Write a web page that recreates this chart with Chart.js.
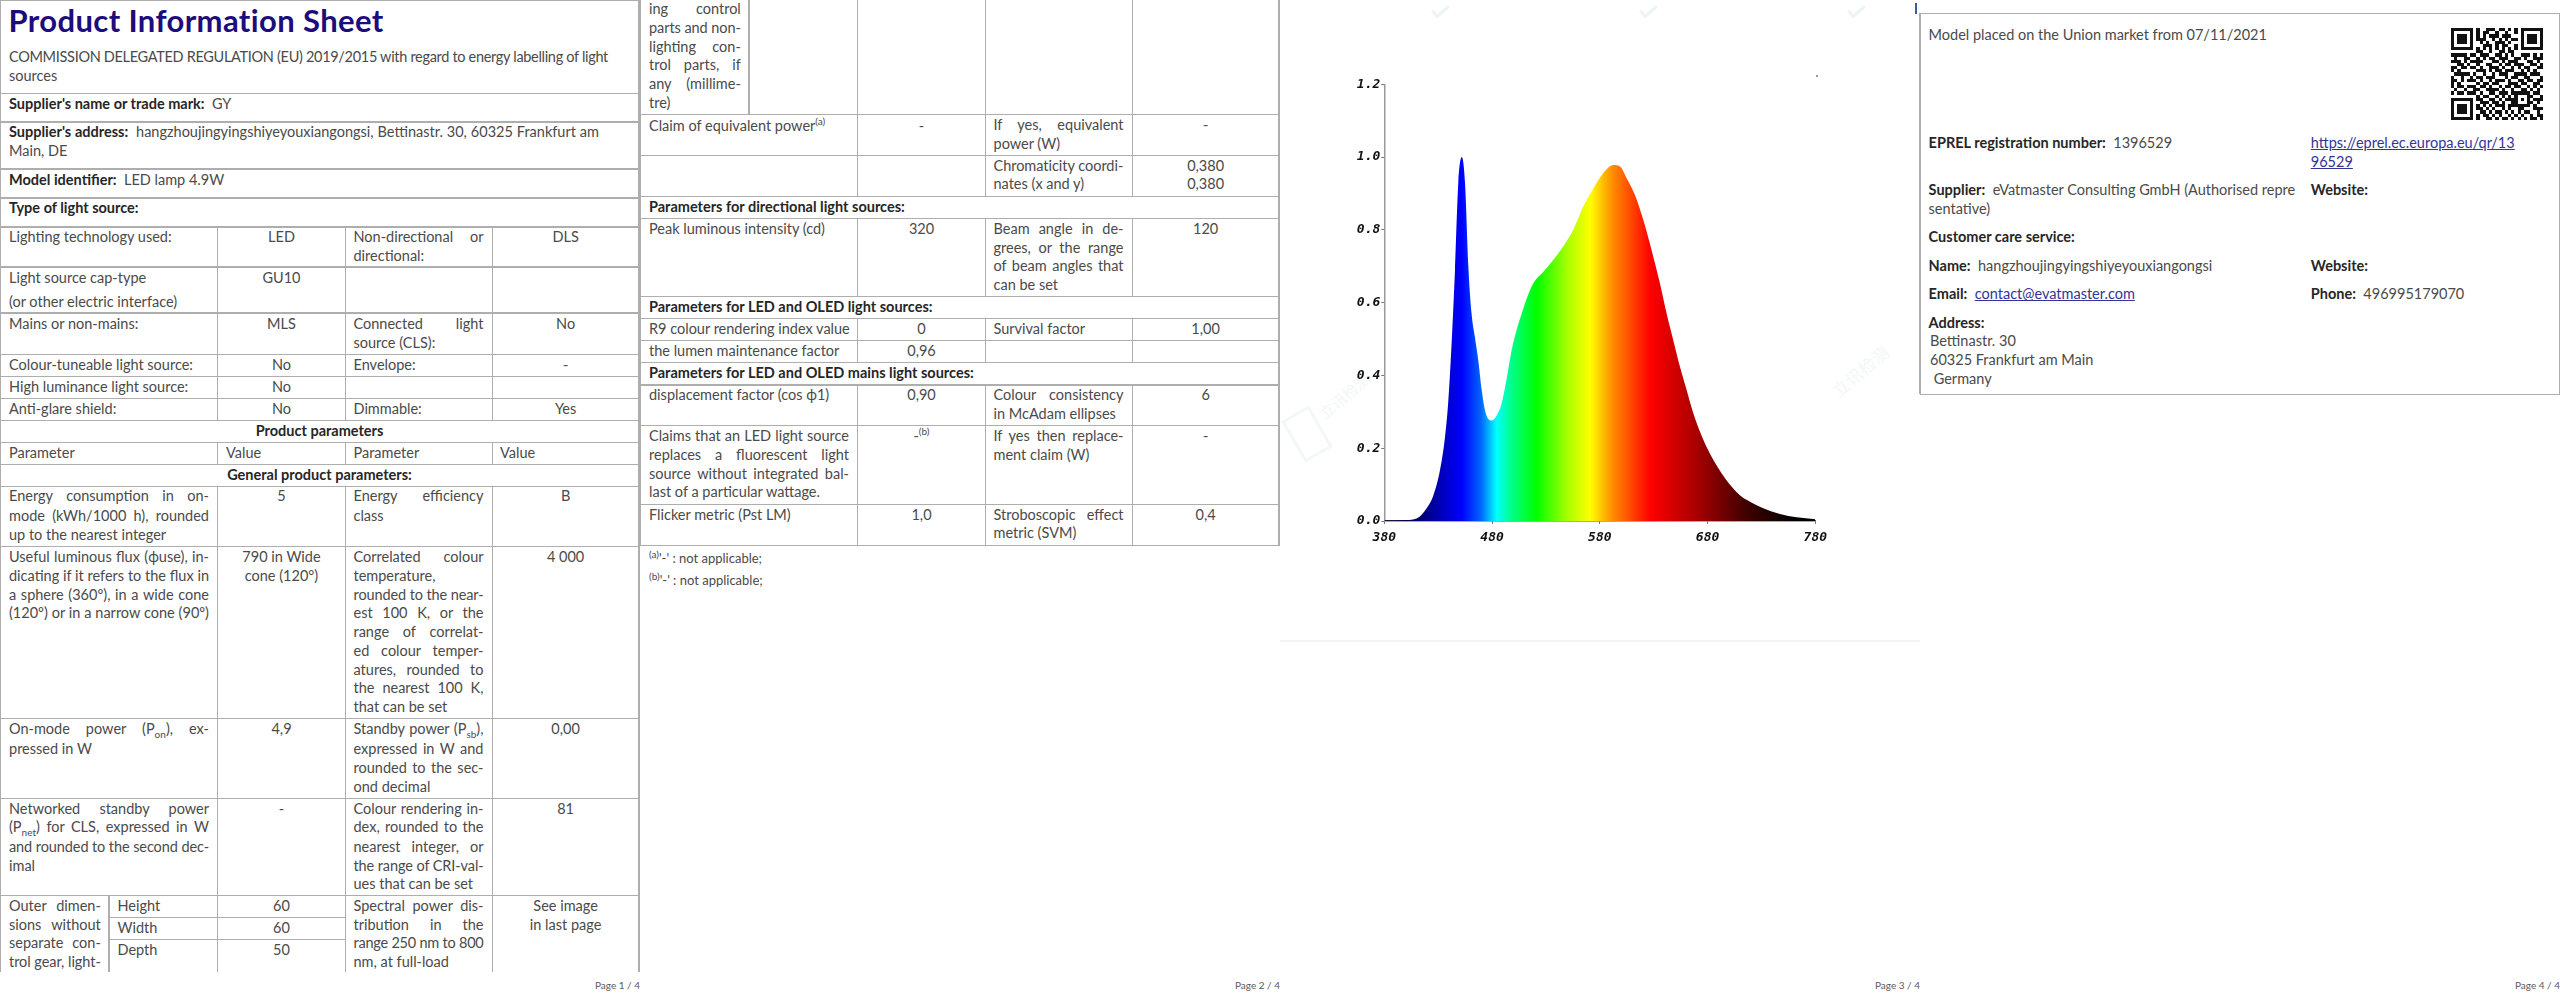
<!DOCTYPE html>
<html>
<head>
<meta charset="utf-8">
<script src="https://cdn.jsdelivr.net/npm/chart.js@4"></script>
<style>
html,body{margin:0;padding:0;background:#fff;width:2560px;height:1001px;overflow:hidden}
#doc{position:absolute;left:0;top:0;width:2560px;height:1001px;font-family:Lato,"Open Sans",sans-serif;font-size:14.5px;color:#4a4a4a}
#doc .t{position:absolute;height:20px;line-height:20px;white-space:nowrap}
#doc .c{text-align:center}
#doc .r{position:absolute;background:#aeaeae}
#doc b{color:#262626;font-weight:700}
#doc a{color:#33339a;text-decoration:underline}
#doc sub,#doc sup{font-size:10px;line-height:0}
#chartWrap{position:absolute;left:1340px;top:70px;width:500px;height:490px}
.wm{position:absolute;color:#cfe6e2;opacity:.28;transform:rotate(-40deg);white-space:nowrap;font-family:"Noto Sans CJK SC",sans-serif}
.logo{position:absolute;border:3px solid #d5e9e6;opacity:.3;transform:rotate(-30deg)}
.chk{position:absolute;border-left:3px solid #dcecea;border-bottom:3px solid #dcecea;width:14px;height:6px;transform:rotate(-40deg);opacity:.5}
</style>
</head>
<body>
<div id="doc"></div>
<div id="chartWrap"><canvas id="spectrum" width="500" height="490"></canvas></div>
<script>
// ---- chart data ----
const WAVELENGTHS = [380,400.7,410,419.3,425.5,431.7,436.3,439.4,442.5,445.6,448.7,452,454.9,458,461,464,467.3,470.4,473.4,476.5,479.6,484.3,488.9,493.5,498.2,502.8,507.5,512,518.3,527.6,536.8,546,555.4,564.7,574,583,592.5,598.7,604.9,612.6,620.4,628,635.8,642,648.2,654.4,660.6,666.8,673,679,685.3,693,701,710,719.4,731.7,747.2,762.7,780];
const INTENSITY = [0.002,0.003,0.007,0.035,0.07,0.14,0.23,0.33,0.49,0.69,0.93,1.0,0.93,0.70,0.57,0.507,0.44,0.36,0.305,0.28,0.276,0.29,0.323,0.39,0.47,0.525,0.57,0.61,0.653,0.685,0.717,0.754,0.80,0.864,0.914,0.955,0.978,0.974,0.942,0.896,0.827,0.745,0.653,0.57,0.497,0.424,0.36,0.296,0.245,0.204,0.168,0.131,0.099,0.071,0.053,0.035,0.019,0.010,0.005];
const X_TICKS = [380,480,580,680,780];
const Y_TICKS = [0,0.2,0.4,0.6,0.8,1.0,1.2];
const SPECTRUM_NM = [400,430,452,470,484,497,521,550,571,592,627,670,716,760];
const SPECTRUM_COLORS = ['#000040','#0000b0','#0000ff','#0068ff','#00ffff','#00ff90','#00ff00','#a8ff00','#ffff00','#ff8c00','#ff0000','#a80000','#400000','#000000'];

// ---- qr modules ----
const QR_ROWS = [
"11111110100111011010101111111",
"10000010101100100100101000001",
"10111010101011101110001011101",
"10111010111001010101101011101",
"10111010010100111010001011101",
"10000010001110101100101000001",
"11111110101010101010101111111",
"00000000110010011011000000000",
"11111011011100110101001110101",
"01001100101011011100110100111",
"11101011110001101011100011010",
"00110100100110010110111001101",
"11011011010011101001010110011",
"10100000111010110111001010100",
"01111101001001011100111101110",
"10010010110111000101100110001",
"11010111010010111010011011011",
"10100000101101100011101100110",
"10110111011010010110110010101",
"01001001100111101001001101010",
"10110111010011011101111110110",
"00000000101100101010100011001",
"11111110110011010111101010111",
"10000010011101101001100011010",
"10111010101010111011111110100",
"10111010110101001010011000111",
"10111010011010110101010110010",
"10000010101101010010101001011",
"11111110100110101101010101101"];

// ---- document text: page 1 ----
const P1_FIT = [
 [56.7,"COMMISSION DELEGATED REGULATION (EU) 2019/2015 with regard to energy labelling of light",608],
 [132.3,"<b>Supplier's address:</b>&nbsp; hangzhoujingyingshiyeyouxiangongsi, Bettinastr. 30, 60325 Frankfurt am",599]
];
const P1_LEFT = [
 [76,"sources"],
 [104,"<b>Supplier's name or trade mark:</b>&nbsp; GY"],
 [151.3,"Main, DE"],
 [179.7,"<b>Model identifier:</b>&nbsp; LED lamp 4.9W"],
 [208.3,"<b>Type of light source:</b>"],
 [237,"Lighting technology used:"],[278,"Light source cap-type"],[301.7,"(or other electric interface)"],
 [324,"Mains or non-mains:"],[364.7,"Colour-tuneable light source:"],[386.7,"High luminance light source:"],[408.7,"Anti-glare shield:"],
 [453,"Parameter"],[535,"up to the nearest integer"],[749,"pressed in W"],[866,"imal"]
];
const P1_LEFT_J = [
 [496,"Energy consumption in on-"],[515.7,"mode (kWh/1000 h), rounded"],[557,"Useful luminous flux (ϕuse), in-"],[575.7,"dicating if it refers to the flux in"],
 [594.7,"a sphere (360º), in a wide cone"],[613.3,"(120º) or in a narrow cone (90º)"],[729.3,"On-mode power (P<sub>on</sub>), ex-"],[808.7,"Networked standby power"],[827.3,"(P<sub>net</sub>) for CLS, expressed in W"],
 [846.7,"and rounded to the second dec-"]
];
const P1_NARROW = [[906,"Outer dimen-"],[924.7,"sions without"],[943.3,"separate con-"],[962.3,"trol gear, light-"]];
const P1_SUB = [[906,"Height"],[927.7,"Width"],[950,"Depth"]];
const P1_VAL = [[237,"LED"],[278,"GU10"],[324,"MLS"],[364.7,"No"],[386.7,"No"],[408.7,"No"],[496,"5"],[557,"790 in Wide"],[575.7,"cone (120°)"],[729.3,"4,9"],[808.7,"-"],[906,"60"],[927.7,"60"],[950,"50"]];
const P1_PAR = [
 [237,"Non-directional or",1],[255.7,"directional:",0],[324,"Connected light",1],[343,"source (CLS):",0],[364.7,"Envelope:",0],[408.7,"Dimmable:",0],
 [453,"Parameter",0],[496,"Energy efficiency",1],[515.7,"class",0],
 [557,"Correlated colour",1],[575.7,"temperature,",0],[594.7,"rounded to the near-",1],[613.3,"est 100 K, or the",1],[632.3,"range of correlat-",1],[651,"ed colour temper-",1],[669.7,"atures, rounded to",1],[688.3,"the nearest 100 K,",1],[707,"that can be set",0],
 [729.3,"Standby power (P<sub>sb</sub>),",1],[749,"expressed in W and",1],[768,"rounded to the sec-",1],[786.7,"ond decimal",0],
 [808.7,"Colour rendering in-",1],[827.3,"dex, rounded to the",1],[846.7,"nearest integer, or",1],[865.7,"the range of CRI-val-",1],[884,"ues that can be set",0],
 [906,"Spectral power dis-",1],[924.7,"tribution in the",1],[943.3,"range 250 nm to 800",1],[962.3,"nm, at full-load",0]
];
const P1_VAL2 = [[237,"DLS"],[324,"No"],[364.7,"-"],[408.7,"Yes"],[496,"B"],[557,"4 000"],[729.3,"0,00"],[808.7,"81"],[906,"See image"],[924.7,"in last page"]];

// ---- page 2 ----
const P2_NARROW = [[9.3,"ing control",1],[28,"parts and non-",1],[46.7,"lighting con-",1],[65.3,"trol parts, if",1],[84.3,"any (millime-",1],[103,"tre)",0]];
const P2_LEFT = [[126,"Claim of equivalent power<sup>(a)</sup>"],[206.7,"<b>Parameters for directional light sources:</b>"],[228.7,"Peak luminous intensity (cd)"],
 [307,"<b>Parameters for LED and OLED light sources:</b>"],[329.3,"R9 colour rendering index value"],[351.3,"the lumen maintenance factor"],[373,"<b>Parameters for LED and OLED mains light sources:</b>"],
 [395.3,"displacement factor (cos ϕ1)"],[492.3,"last of a particular wattage."],[515,"Flicker metric (Pst LM)"]];
const P2_LEFT_J = [[436.3,"Claims that an LED light source"],[455,"replaces a fluorescent light"],[473.7,"source without integrated bal-"]];
const P2_VAL = [[126,"-"],[228.7,"320"],[329.3,"0"],[351.3,"0,96"],[395.3,"0,90"],[436.3,"-<sup>(b)</sup>"],[515,"1,0"]];
const P2_PAR = [[125,"If yes, equivalent",1],[143.7,"power (W)",0],[165.7,"Chromaticity coordi-",1],[184.3,"nates (x and y)",0],
 [228.7,"Beam angle in de-",1],[247.7,"grees, or the range",1],[266.3,"of beam angles that",1],[285,"can be set",0],[329.3,"Survival factor",0],
 [395.3,"Colour consistency",1],[414,"in McAdam ellipses",0],[436.3,"If yes then replace-",1],[455,"ment claim (W)",0],[515,"Stroboscopic effect",1],[533.3,"metric (SVM)",0]];
const P2_VAL2 = [[125,"-"],[165.7,"0,380"],[184.3,"0,380"],[228.7,"120"],[329.3,"1,00"],[395.3,"6"],[436.3,"-"],[515,"0,4"]];
const P2_NOTES = [[557.7,"<sup>(a)</sup>'-' : not applicable;"],[579.7,"<sup>(b)</sup>'-' : not applicable;"]];

// ---- page 4 ----
const P4_LEFT = [[34.7,"Model placed on the Union market from 07/11/2021"],[143.3,"<b>EPREL registration number:</b>&nbsp; 1396529"],
 [190.3,"<b>Supplier:</b>&nbsp; eVatmaster Consulting GmbH (Authorised repre"],[209.3,"sentative)"],[237.3,"<b>Customer care service:</b>"],
 [265.7,"<b>Name:</b>&nbsp; hangzhoujingyingshiyeyouxiangongsi"],[294.3,"<b>Email:</b>&nbsp; <a>contact@evatmaster.com</a>"],[322.7,"<b>Address:</b>"]];
const P4_ADDR = [[341.3,"Bettinastr. 30"],[360,"60325 Frankfurt am Main"],[379,"&nbsp;Germany"]];
const P4_RIGHT = [[143.3,"<a>https://eprel.ec.europa.eu/qr/13</a>"],[162.3,"<a>96529</a>"],[190.3,"<b>Website:</b>"],[265.7,"<b>Website:</b>"],[294.3,"<b>Phone:</b>&nbsp; 496995179070"]];

// ---- layout helpers ----
const doc = document.getElementById('doc');
function el(cls,css,html){const d=document.createElement('div');d.className=cls;d.style.cssText=css;if(html!==undefined)d.innerHTML=html;doc.appendChild(d);return d;}
function T(x,y,html,extra){return el('t',`left:${x}px;top:${y-10}px;${extra||''}`,html);}
function J(x0,x1,y,html){
  const d=el('t',`left:${x0}px;top:${y-10}px`,html);
  const w=x1-x0,nat=d.getBoundingClientRect().width,txt=d.textContent;
  const spaces=(txt.match(/[ \u00a0]/g)||[]).length;
  if(nat>w) d.style.letterSpacing=((w-nat)/txt.length)+'px';
  else if(spaces) d.style.wordSpacing=((w-nat)/spaces)+'px';
  return d;
}
function C(xc,y,html,extra){return el('t c',`left:${xc-100}px;top:${y-10}px;width:200px;${extra||''}`,html);}
function H(x0,x1,y){el('r',`left:${x0}px;top:${y-0.75}px;width:${x1-x0}px;height:1.5px`);}
function V(x,y0,y1){el('r',`left:${x-0.75}px;top:${y0}px;width:1.5px;height:${y1-y0}px`);}
const COL={a:0,sub:109,b:217.6,c:345.4,d:492.3,e:639};
const BODY={lx0:9,lx1:209,nx1:100.8,subx:117.5,vc:281.5,px0:353.5,px1:483.5,v2c:565.6};
function PAR(list,off){list.forEach(r=>r[2]?J(BODY.px0+off,BODY.px1+off,r[0],r[1]):T(BODY.px0+off,r[0],r[1]));}

// ---- page 1 ----
T(8.5,20,"Product Information Sheet","font-size:31px;letter-spacing:.38px;font-weight:700;color:#1c0c7c;height:36px;line-height:36px;top:2px");
P1_FIT.forEach(r=>J(BODY.lx0,r[2],r[0],r[1]));
P1_LEFT.forEach(r=>T(BODY.lx0,r[0],r[1]));
P1_LEFT_J.forEach(r=>J(BODY.lx0,BODY.lx1,r[0],r[1]));
P1_NARROW.forEach(r=>J(BODY.lx0,BODY.nx1,r[0],r[1]));
P1_SUB.forEach(r=>T(BODY.subx,r[0],r[1]));
P1_VAL.forEach(r=>C(BODY.vc,r[0],r[1]));
PAR(P1_PAR,0);
P1_VAL2.forEach(r=>C(BODY.v2c,r[0],r[1]));
T(226,453,"Value");T(500,453,"Value");
C(319.5,431,"<b>Product parameters</b>");C(319.5,475,"<b>General product parameters:</b>");
[0,93.3,122,169,198,227,267,313,354.5,376.5,398.5,420.5,442.5,464.5,486.5,546.3,718.3,798.3,895.7].forEach(y=>H(0,COL.e+.7,y));
H(COL.sub,COL.c,917.3);H(COL.sub,COL.c,939.3);
V(0,0,972);V(COL.e,0,972);
[[COL.b,227,420.5],[COL.c,227,420.5],[COL.d,227,420.5],[COL.b,442.5,464.5],[COL.c,442.5,464.5],[COL.d,442.5,464.5],
 [COL.b,486.5,972],[COL.c,486.5,972],[COL.d,486.5,972],[COL.sub,895.7,972]].forEach(s=>V(s[0],s[1],s[2]));

// ---- page 2 ----
const P=640;
P2_NARROW.forEach(r=>r[2]?J(BODY.lx0+P,BODY.nx1+P,r[0],r[1]):T(BODY.lx0+P,r[0],r[1]));
P2_LEFT.forEach(r=>T(BODY.lx0+P,r[0],r[1]));
P2_LEFT_J.forEach(r=>J(BODY.lx0+P,BODY.lx1+P,r[0],r[1]));
P2_VAL.forEach(r=>C(BODY.vc+P,r[0],r[1]));
PAR(P2_PAR,P);
P2_VAL2.forEach(r=>C(BODY.v2c+P,r[0],r[1]));
P2_NOTES.forEach(r=>T(BODY.lx0+P,r[0],r[1],"font-size:13px"));
[114.3,155.3,196.3,218.3,296.3,318.7,340.7,362.7,385,425.3,504.3,545.7].forEach(y=>H(P,COL.e+P+.7,y));
V(P,0,545.7);V(COL.e+P,0,545.7);
[[COL.sub,0,114.3],[COL.b,0,196.3],[COL.c,0,196.3],[COL.d,0,196.3],[COL.b,218.3,296.3],[COL.c,218.3,296.3],[COL.d,218.3,296.3],
 [COL.b,318.7,362.7],[COL.c,318.7,362.7],[COL.d,318.7,362.7],[COL.b,385,545.7],[COL.c,385,545.7],[COL.d,385,545.7]].forEach(s=>V(s[0]+P,s[1],s[2]));

// ---- page labels ----
[[640,1],[1280,2],[1920,3],[2560,4]].forEach(p=>T(p[0]-60,985,`Page ${p[1]} / 4`,"width:60px;text-align:right;font-size:10px;color:#5a5a5a"));

// ---- page 3 decorations ----
el('r',"left:1280px;top:640px;width:640px;height:1.5px;background:#f1f1f1");
el('r',"left:1816px;top:75px;width:2px;height:2px;background:#999");
el('r',"left:1915px;top:3px;width:1.5px;height:11px;background:#3b5b9b");
el('wm',"left:1314px;top:385px;font-size:15px","立讯检测");
el('logo',"left:1291px;top:410px;width:26px;height:42px");
el('wm',"left:1826px;top:358px;font-size:17px","立讯检测");
[1432,1640,1848].forEach(x=>el('chk',`left:${x}px;top:5px`));

// ---- page 4 ----
const B4=1920;
H(B4,2560,13.3);H(B4,2560,394.3);V(B4,13.3,394.3);V(2559.3,13.3,394.3);
P4_LEFT.forEach(r=>T(1928.6,r[0],r[1]));
P4_ADDR.forEach(r=>T(1930,r[0],r[1]));
P4_RIGHT.forEach(r=>T(2310.8,r[0],r[1]));

// QR code
(function(){
  const NS='http://www.w3.org/2000/svg',n=QR_ROWS.length;
  const s=document.createElementNS(NS,'svg');
  s.setAttribute('viewBox',`0 0 ${n} ${n}`);
  s.setAttribute('shape-rendering','crispEdges');
  s.style.cssText='position:absolute;left:2451px;top:28px;width:92px;height:92px';
  QR_ROWS.forEach((row,y)=>[...row].forEach((c,x)=>{if(c==='1'){const r=document.createElementNS(NS,'rect');
    r.setAttribute('x',x);r.setAttribute('y',y);r.setAttribute('width',1);r.setAttribute('height',1);r.setAttribute('fill','#111');s.appendChild(r);}}));
  doc.appendChild(s);
})();

// ---- chart ----
const tickFont={family:'"DejaVu Sans Mono"',size:13,style:'italic',weight:'bold'};
new Chart(document.getElementById('spectrum'),{
  type:'line',
  data:{datasets:[{
    data:WAVELENGTHS.map((w,i)=>({x:w,y:INTENSITY[i]})),
    borderWidth:0,pointRadius:0,fill:'origin',
    cubicInterpolationMode:'monotone',
    backgroundColor(ctx){
      const c=ctx.chart,sx=c.scales.x;
      if(!c.chartArea||!sx)return '#0000ff';
      const x0=sx.getPixelForValue(380),x1=sx.getPixelForValue(780);
      const g=c.ctx.createLinearGradient(x0,0,x1,0);
      SPECTRUM_NM.forEach((nm,i)=>g.addColorStop((nm-380)/400,SPECTRUM_COLORS[i]));
      return g;
    }
  }]},
  options:{
    responsive:false,animation:false,devicePixelRatio:1,
    layout:{padding:{top:14.3,left:0,right:24.7,bottom:0}},
    plugins:{legend:{display:false},tooltip:{enabled:false},title:{display:false}},
    scales:{
      x:{type:'linear',min:380,max:780,
        afterBuildTicks(a){a.ticks=X_TICKS.map(v=>({value:v}));},
        afterFit(a){a.height=490-451;},
        grid:{drawOnChartArea:false,drawTicks:true,tickLength:3,color:'#777'},
        border:{color:'#555',width:1.5},
        ticks:{font:tickFont,color:'#111',maxRotation:0,autoSkip:false,padding:6,callback:v=>String(v)}},
      y:{min:0,max:1.2,
        afterBuildTicks(a){a.ticks=Y_TICKS.map(v=>({value:v}));},
        afterFit(a){a.width=44.3;},
        grid:{drawOnChartArea:false,drawTicks:true,tickLength:3,color:'#777'},
        border:{color:'#999',width:1.5},
        ticks:{font:tickFont,color:'#111',autoSkip:false,padding:1,callback:v=>v.toFixed(1)}}
    }
  }
});
</script>
</body>
</html>
